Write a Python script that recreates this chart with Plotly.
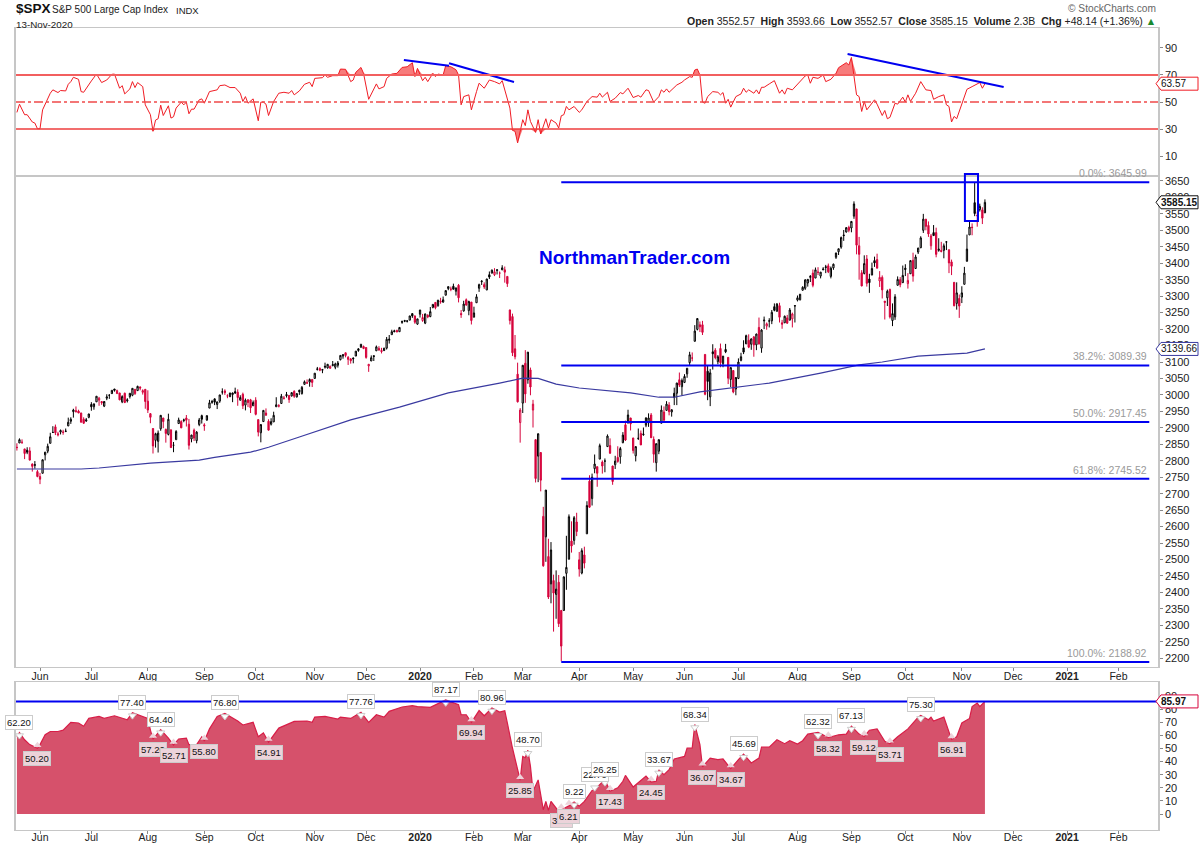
import plotly.graph_objects as go

open_px = [
 2841,2854,2856,2836,2832,2830,2790,2786,2767,
 2752,2762,2818,2829,2853,2886,2903,2882,2887,2886,2889,2906,2920,2949,2952,2951,2945,2926,2921,2932,
 2971,2964,2979,2984,2980,2966,2990,2999,3004,3018,3013,3006,2979,3005,2982,2995,2999,3017,3013,3024,3008,3017,
 2981,2943,2898,2862,2859,2897,2930,2895,2880,2894,2847,2864,2913,2919,2922,2930,2911,2866,2893,2861,2910,2937,
 2909,2924,2960,2980,2988,2971,2981,3009,3012,2997,2995,3001,3010,3008,2984,3002,2969,2985,2985,2967,
 2984,2925,2885,2919,2945,2920,2911,2918,2964,2966,2974,2990,3001,2998,2997,3011,2994,3014,3004,3032,3037,3039,3047,
 3050,3079,3080,3075,3087,3082,3081,3089,3084,3090,3107,3118,3128,3114,3109,3112,3118,3135,3145,3147,
 3144,3088,3103,3119,3134,3141,3135,3135,3142,3166,3183,3195,3196,3192,3223,3226,3225,3227,3247,3240,3215,
 3245,3226,3218,3242,3238,3266,3281,3271,3285,3282,3303,3323,3321,3330,3315,3333,3247,3255,3289,3256,3282,
 3236,3280,3324,3344,3335,3319,3365,3370,3365,3378,3370,3380,3380,3360,3258,3238,3140,3063,2916,
 2975,3096,3046,3076,2954,2864,2814,2825,2631,2569,2509,2426,2436,2394,2431,2345,2345,2458,2501,2556,2558,2614,
 2499,2459,2514,2578,2738,2685,2776,2782,2805,2796,2799,2843,2846,2784,2788,2810,2812,2855,2909,2918,2930,
 2869,2815,2868,2883,2879,2908,2915,2939,2865,2794,2829,2914,2948,2953,2969,2948,3005,3005,3046,3025,
 3038,3064,3098,3112,3163,3199,3213,3213,3123,3072,2994,3131,3136,3101,3141,3095,3138,3114,3047,3074,3018,3050,
 3105,3143,3155,3166,3154,3176,3152,3205,3142,3225,3209,3224,3225,3268,3254,3271,3219,3219,3234,3227,3231,3270,
 3288,3289,3318,3324,3340,3357,3370,3355,3372,3361,3380,3387,3392,3360,3386,3418,3435,3449,3486,3495,3509,
 3507,3543,3565,3453,3371,3369,3413,3352,3364,3408,3411,3346,3357,3285,3295,3320,3226,3237,3333,3350,3341,
 3385,3338,3368,3409,3384,3434,3447,3500,3534,3515,3453,3493,3493,3439,3439,3439,3464,3441,3404,3342,3278,3293,
 3297,3336,3406,3486,3508,3584,3544,3563,3562,3553]
high_px = [
 2853,2868,2865,2836,2841,2841,2792,2799,2772,
 2763,2804,2827,2852,2885,2905,2910,2888,2895,2894,2898,2931,2932,2958,2965,2955,2946,2932,2930,2943,
 2978,2973,2996,2994,2980,2981,3002,3002,3014,3018,3016,3006,2999,3007,2990,3005,3020,3017,3028,3026,3017,3017,
 3014,2945,2898,2885,2892,2939,2930,2898,2943,2894,2857,2893,2931,2923,2928,2939,2927,2879,2898,2890,2930,2940,
 2914,2938,2985,2985,2989,2979,3000,3020,3017,3002,3006,3007,3022,3017,2999,3007,2989,2987,2988,2983,
 2993,2925,2911,2953,2959,2926,2929,2949,2993,2972,3003,2997,3009,3000,3007,3014,3005,3016,3027,3044,3047,3050,3047,
 3066,3085,3084,3079,3098,3094,3089,3103,3098,3103,3121,3124,3128,3118,3112,3114,3133,3142,3154,3150,
 3144,3094,3120,3120,3150,3148,3143,3143,3176,3182,3198,3198,3198,3206,3226,3228,3226,3240,3247,3241,3231,
 3258,3246,3247,3245,3267,3275,3282,3288,3295,3299,3317,3329,3329,3338,3326,3337,3258,3286,3293,3286,3282,
 3268,3306,3338,3347,3342,3353,3375,3381,3385,3381,3375,3394,3390,3360,3259,3247,3182,3098,2960,
 3091,3136,3130,3083,2985,2863,2883,2825,2660,2711,2563,2553,2454,2467,2453,2347,2449,2572,2637,2616,2632,2642,
 2523,2534,2539,2677,2756,2761,2819,2782,2852,2801,2807,2880,2868,2785,2815,2844,2842,2887,2922,2955,2930,
 2870,2844,2898,2892,2901,2932,2944,2945,2874,2852,2865,2968,2965,2981,2978,2956,3022,3037,3068,3050,
 3063,3081,3131,3129,3212,3233,3223,3225,3123,3088,3079,3154,3142,3121,3156,3118,3155,3115,3082,3074,3054,3111,
 3128,3166,3183,3184,3172,3179,3186,3235,3200,3238,3220,3233,3258,3278,3279,3280,3228,3241,3243,3264,3250,3272,
 3302,3306,3330,3352,3352,3364,3381,3387,3388,3373,3388,3395,3399,3390,3399,3432,3444,3481,3501,3510,3514,
 3528,3588,3565,3480,3379,3424,3425,3368,3402,3420,3429,3376,3363,3285,3320,3323,3278,3306,3360,3358,3393,
 3397,3370,3409,3432,3426,3447,3482,3550,3534,3527,3489,3516,3508,3476,3465,3460,3466,3441,3411,3342,3342,3305,
 3330,3389,3487,3529,3521,3646,3557,3581,3570,3594]
low_px = [
 2831,2854,2851,2805,2820,2801,2767,2776,2750,
 2729,2762,2801,2823,2853,2886,2878,2874,2880,2879,2887,2905,2912,2931,2946,2945,2917,2912,2918,2929,
 2952,2955,2979,2967,2970,2963,2984,2988,3003,3010,3004,2984,2975,2975,2977,2989,2996,3000,3013,3014,3001,2958,
 2945,2914,2822,2840,2825,2891,2899,2855,2877,2839,2826,2864,2913,2899,2917,2904,2834,2856,2860,2853,2905,2913,
 2891,2921,2960,2973,2969,2957,2976,3001,3000,2990,2993,2978,3003,2967,2983,2957,2953,2963,2945,2967,
 2938,2874,2856,2918,2938,2892,2907,2918,2964,2962,2974,2986,2992,2976,2995,2991,2992,3000,3001,3032,3034,3025,3024,
 3050,3074,3072,3066,3080,3080,3079,3087,3078,3083,3105,3110,3114,3091,3095,3096,3118,3131,3143,3139,
 3110,3070,3103,3103,3134,3136,3126,3133,3138,3156,3183,3191,3191,3192,3216,3221,3220,3227,3234,3216,3213,
 3235,3222,3215,3233,3236,3263,3260,3268,3277,3280,3302,3318,3315,3321,3302,3281,3234,3253,3271,3242,3214,
 3236,3280,3313,3334,3322,3318,3352,3369,3361,3366,3355,3379,3341,3328,3214,3118,3108,2977,2855,
 2945,2976,3034,2999,2901,2734,2735,2707,2478,2493,2380,2367,2281,2320,2295,2191,2345,2408,2500,2521,2545,2571,
 2448,2455,2473,2578,2657,2664,2762,2721,2805,2761,2765,2843,2821,2727,2775,2794,2791,2853,2860,2912,2892,
 2822,2798,2863,2848,2876,2902,2903,2869,2794,2767,2820,2914,2922,2953,2938,2934,2969,2969,3024,2999,
 3036,3052,3091,3102,3164,3196,3191,3182,2999,2984,2966,3077,3108,3093,3084,3084,3127,3033,3024,3005,2999,3048,
 3102,3124,3155,3142,3137,3116,3136,3153,3128,3200,3198,3205,3215,3254,3253,3220,3201,3219,3216,3227,3205,3220,
 3284,3287,3317,3319,3329,3343,3327,3355,3364,3354,3379,3370,3370,3354,3380,3413,3425,3444,3468,3493,3494,
 3494,3535,3427,3350,3330,3366,3329,3310,3364,3389,3385,3328,3293,3229,3270,3232,3209,3228,3333,3327,3340,
 3361,3323,3368,3344,3384,3428,3446,3492,3500,3480,3441,3483,3418,3435,3433,3415,3440,3370,3364,3269,3259,3234,
 3279,3336,3405,3486,3485,3543,3511,3557,3519,3553]
close_px = [
 2840,2864,2856,2822,2826,2802,2783,2788,2752,
 2744,2803,2826,2844,2873,2886,2885,2879,2892,2887,2890,2917,2926,2954,2950,2945,2917,2914,2924,2942,
 2964,2973,2996,2990,2976,2980,2994,2999,3014,3014,3004,2985,2995,2977,2985,3005,3020,3004,3026,3021,3013,2980,
 2954,2932,2845,2882,2884,2938,2919,2883,2926,2840,2847,2889,2924,2900,2924,2923,2847,2878,2869,2887,2924,2926,
 2906,2937,2976,2978,2978,2979,3000,3009,3007,2997,3006,3006,3006,2992,2992,2967,2984,2977,2961,2977,
 2941,2887,2910,2953,2938,2893,2919,2938,2970,2967,2996,2990,2998,2986,3007,2996,3004,3010,3023,3040,3036,3047,3038,
 3066,3078,3075,3077,3085,3093,3087,3092,3094,3097,3120,3122,3120,3108,3104,3110,3133,3140,3154,3141,
 3114,3093,3113,3117,3146,3136,3132,3142,3169,3169,3192,3192,3191,3205,3221,3224,3224,3240,3240,3221,3231,
 3258,3235,3246,3237,3253,3275,3265,3288,3283,3289,3317,3329,3321,3321,3325,3295,3244,3276,3273,3284,3226,
 3249,3298,3335,3346,3328,3352,3358,3379,3374,3380,3370,3386,3373,3338,3226,3128,3116,2979,2954,
 3090,3003,3130,3024,2972,2746,2882,2741,2481,2711,2386,2529,2398,2410,2305,2237,2447,2476,2630,2541,2627,2585,
 2471,2527,2489,2664,2659,2750,2790,2762,2846,2784,2799,2875,2823,2737,2799,2798,2837,2878,2863,2939,2912,
 2831,2843,2868,2848,2881,2930,2930,2870,2820,2852,2864,2954,2923,2972,2949,2955,2992,3036,3030,3044,
 3056,3081,3122,3112,3194,3232,3207,3190,3002,3041,3067,3125,3113,3116,3098,3118,3131,3051,3083,3009,3053,3100,
 3116,3130,3180,3145,3170,3152,3185,3155,3197,3227,3216,3225,3251,3257,3276,3236,3215,3239,3218,3258,3246,3271,
 3295,3306,3327,3349,3351,3360,3333,3380,3373,3373,3382,3389,3374,3385,3397,3431,3444,3478,3484,3508,3500,
 3527,3580,3455,3427,3331,3399,3339,3341,3384,3401,3385,3357,3319,3281,3315,3237,3247,3298,3351,3335,3363,
 3381,3348,3408,3361,3419,3446,3477,3534,3512,3489,3483,3484,3427,3443,3436,3453,3465,3401,3391,3271,3310,3270,
 3310,3370,3443,3510,3509,3551,3545,3573,3537,3585]

sma_bar = [0,25,32,52,71,77,91,98,110,130,149,168,188,197,203,210,219,239,250,256,266,278,293,313,328,337,351,370,377]
sma_val = [2775,2775,2778,2793,2802,2810,2826,2841,2872,2924,2963,3006,3036,3051,3050,3033,3021,3006,2993,2993,3009,3021,3036,3066,3091,3100,3118,3127,3139.66]

rsi_bar = [
 0,1,3,4,6,7,8,9,10,11,13,14,16,17,19,20,21,22,24,25,26,29,31,33,35,37,38,40,41,42,44,45,46,47,49,50,52,53,54,55,56,57,59,60,61,62,64,65,66,67,68,69,71,72,73,75,78,79,81,83,85,87,88,89,90,92,94,95,
 96,97,98,100,102,104,106,107,108,110,112,114,115,116,119,120,121,123,125,126,128,130,131,132,134,135,137,140,141,143,144,146,148,150,152,154,155,156,158,159,160,162,163,164,166,167,169,171,172,173,174,176,177,179,180,182,184,186,188,189,190,192,
 193,194,195,197,198,199,200,202,203,204,206,207,208,210,211,212,213,214,215,217,219,220,222,224,226,227,228,230,231,233,235,236,238,240,242,243,245,246,248,250,251,252,253,254,257,259,260,262,263,264,265,266,267,268,269,271,273,274,275,276,277,278,280,282,283,284,285,
 287,288,289,290,291,293,295,297,298,299,300,302,304,305,307,308,309,310,312,314,315,317,319,320,323,324,325,327,328,329,330,331,334,335,337,338,339,340,342,343,345,346,347,348,350,352,354,356,357,359,361,362,363,364,365,366,368,370,372,374,375,376,377]
rsi_val = [
 42.3,48.4,40.6,40.6,35.2,34.4,30.2,30.2,44.2,48.4,56.5,59,57,58.5,58.2,63.1,65.1,68.3,66.8,57.7,57.2,65.6,70.7,64.4,66.3,70.5,70.7,60.2,62.1,56,59.7,65.1,60.7,64.4,61.4,47.9,40.6,28.3,36.6,37.6,47.7,40,47.2,38.1,39.1,45.5,49.9,47.9,49.9,41.3,44.7,44.7,51.6,52.3,49.1,57.7,59,62.1,62.6,60.7,60.7,56.5,50.4,54,49.1,52.3,36.1,49.9,
 49.9,48.4,40,50.4,56.5,57.2,56.5,58.5,55.3,58.2,63.1,64.6,61.4,67.5,68,70,68.3,69.5,69.5,74.4,74.2,65.1,66.3,72,75.6,71.2,52,63.4,59.7,61.4,67.5,70.7,71.2,75.6,76.1,79.1,68.8,74.9,65.8,68.3,65.1,71.2,68.8,70.7,70,76.9,76.1,73.9,70,47.9,54,55.3,44.2,57.7,63.9,60.2,66.3,65.1,63.4,65.8,59,45.5,
 29,28.3,19.7,36.9,32.5,44.2,35.6,27.5,36.9,26.3,37.6,30.7,36.9,34.4,30.7,39.8,40.6,46.7,44.2,46.7,42.3,44.2,50.4,54,53.6,56.5,53.6,57.2,50.4,52.8,57,56,60.2,53.3,54.8,53.6,59,58.5,49.9,54,59,57.2,59.7,57.2,62.6,64.6,66.3,68.8,68.3,73.7,74.4,70,49.9,49.1,54,57.7,57.2,55.3,57,49.1,52,46.2,54,56,60.2,57.2,59,
 56.5,59,56,60.9,60.9,63.4,65.8,56.5,59,55.8,60.2,59,63.4,65.1,69.3,70,63.9,68.3,67.5,70,65.1,66.8,71.2,75.4,79.1,77.4,83,55.3,54,43,50.4,44.2,51.6,48.4,40,43.7,37.6,38.6,49.1,48.4,53.6,49.9,55.3,50.4,56.5,65.1,59,58.5,52,54,55.3,47.9,46.7,35.2,39.3,37.6,49.1,59.4,61.4,63.1,64.4,60.2,63.57]

breadth_bar = [0,1,3,5,8,9,11,13,16,18,21,24,26,28,32,34,38,43,45,49,51,52,53,56,59,61,63,66,67,70,72,73,75,78,81,86,88,92,94,96,98,102,108,113,115,116,120,125,126,130,134,137,140,143,145,150,154,156,161,167,172,173,175,177,180,182,185,188,190,191,193,196,197,198,199,200,201,203,205,206,207,208,211,212,215,217,219,221,224,225,227,229,231,234,236,237,240,242,245,247,249,250,252,254,256,260,261,263,264,266,267,270,273,275,278,281,283,286,289,290,293,296,299,301,304,306,308,312,316,320,323,325,328,330,332,335,338,340,343,347,351,352,355,356,357,361,364,366,368,371,372,374,375,377]
breadth_val = [59,62.2,56.7,53,50.2,53,60.6,63,63,64,70,69.5,67,73,74.5,73,75,72,77.4,74.5,73,64,57.2,64.4,58,52.71,57.3,58,53,53,59,55.8,65,74.5,76.8,71,68,70,59,62,54.91,65.6,70.7,71,70,74,74.5,72.5,74,73,77.76,70,75.8,74,78.4,81.7,82.7,82,81.4,87.17,83.5,75.8,75.8,69.94,79,75,80.96,77.9,78.9,69.5,50.4,25.85,44,43,48.7,36.4,17.3,26,3.3,9.7,2.8,9.7,2,3.21,6.21,9.22,5.9,9.7,18,18.5,22.4,26.25,17.43,20,25,29.5,20.6,23.7,29,24.45,25,33.67,30,33.8,42,44,50.4,50.4,68.34,53,36.07,42.7,41.5,42,34.67,41.5,45.69,39,42.7,51,51,56.7,53.7,56,53.5,56,61,62.32,58.32,60.5,61,67.13,61,59.12,64,65,55.5,53.71,59,65,74,75.3,72,74,71,74,56.91,59,69.5,73,82,84.7,82,85.97]

peak_bar = [1,45,56,81,134,167,185,199,217,225,229,250,264,283,312,325,352]
peak_val = [62.2,77.4,64.4,76.8,77.76,87.17,80.96,48.7,9.22,22.4,26.25,33.67,68.34,45.69,62.32,67.13,75.3]
peak_txt = ["62.20","77.40","64.40","76.80","77.76","87.17","80.96","48.70","9.22","22.70","26.25","33.67","68.34","45.69","62.32","67.13","75.30"]
trough_bar = [8,53,61,73,98,177,196,212,215,231,247,267,278,316,330,340,364]
trough_val = [50.2,57.2,52.71,55.8,54.91,69.94,25.85,3.21,6.21,17.43,24.45,36.07,34.67,58.32,59.12,53.71,56.91]
trough_txt = ["50.20","57.20","52.71","55.80","54.91","69.94","25.85","3.21","6.21","17.43","24.45","36.07","34.67","58.32","59.12","53.71","56.91"]

fib_levels = [3645.99, 3089.39, 2917.45, 2745.52, 2188.92]
fib_texts = ["0.0%: 3645.99", "38.2%: 3089.39", "50.0%: 2917.45", "61.8%: 2745.52", "100.0%: 2188.92"]
fib_start_bar, fib_end_bar = 212, 441

trend_a_bar, trend_a_val = [150.7, 168.3], [81.1, 76.9]
trend_b_bar, trend_b_val = [168.3, 193.6], [78.7, 64.8]
trend_c_bar, trend_c_val = [323.5, 384.3], [85.6, 61.1]

month_bar = [9,29,51,73,93,116,136,157,178,197,219,240,260,281,304,325,346,368,388,409,429]
month_txt = ["Jun","Jul","Aug","Sep","Oct","Nov","Dec","<b>2020</b>","Feb","Mar","Apr","May","Jun","Jul","Aug","Sep","Oct","Nov","Dec","<b>2021</b>","Feb"]

price_ticks = list(range(2200, 3651, 50))
rsi_ticks = [10, 30, 50, 70, 90]
breadth_ticks = list(range(0, 91, 10))

assert len(open_px) == len(high_px) == len(low_px) == len(close_px) == 378
assert len(rsi_bar) == len(rsi_val), (len(rsi_bar), len(rsi_val))
assert len(breadth_bar) == len(breadth_val) and len(sma_bar) == len(sma_val)

W, H = 1200, 845
TOP, BOT, LEFT, RIGHT = 28, 830, 16, 1158
FONT = "Liberation Sans"
RED = "#d6043c"
BLUE = "#0000f0"
BORDER = "#c6c6c6"
NAVY = "#3a3aa0"
def dom(y_top, y_bot):
    return [(BOT - y_bot) / (BOT - TOP), (BOT - y_top) / (BOT - TOP)]
def py(y):
    return (BOT - y) / (BOT - TOP)
def px(x):
    return (x - LEFT) / (RIGHT - LEFT)

xr = [-0.35, 444.4]
fig = go.Figure()

# RSI pane
rsi_over = [max(v, 70) for v in rsi_val]
rsi_under = [min(v, 30) for v in rsi_val]
for level in (70, 30):
    fig.add_trace(go.Scatter(x=rsi_bar, y=[level]*len(rsi_bar), mode="lines", line=dict(width=0), xaxis="x", yaxis="y", showlegend=False, hoverinfo="skip"))
    fig.add_trace(go.Scatter(x=rsi_bar, y=rsi_over if level == 70 else rsi_under, mode="lines", line=dict(width=0), fill="tonexty", fillcolor="rgba(245,90,90,0.8)", xaxis="x", yaxis="y", showlegend=False, hoverinfo="skip"))
fig.add_trace(go.Scatter(x=rsi_bar, y=rsi_val, mode="lines", line=dict(color="#f01c24", width=1), xaxis="x", yaxis="y", showlegend=False))
for bx, by in ((trend_a_bar, trend_a_val), (trend_b_bar, trend_b_val), (trend_c_bar, trend_c_val)):
    fig.add_trace(go.Scatter(x=bx, y=by, mode="lines", line=dict(color=BLUE, width=2), xaxis="x", yaxis="y", showlegend=False))

# Price pane: four candle groups, StockCharts colouring
groups = {(h, c): [] for h in (True, False) for c in (True, False)}
for i in range(len(close_px)):
    prev = close_px[i-1] if i else open_px[i]
    groups[(close_px[i] >= open_px[i], close_px[i] >= prev)].append(i)
for (hollow, up), idx in groups.items():
    col = "#000000" if up else RED
    fill = "#ffffff" if hollow else col
    style = dict(line=dict(color=col, width=1), fillcolor=fill)
    fig.add_trace(go.Candlestick(
        x=idx,
        open=[open_px[i] for i in idx], high=[high_px[i] for i in idx],
        low=[low_px[i] for i in idx], close=[close_px[i] for i in idx],
        increasing=style, decreasing=style, whiskerwidth=0,
        xaxis="x2", yaxis="y2", showlegend=False))
fig.add_trace(go.Scatter(x=sma_bar, y=sma_val, mode="lines", line=dict(color=NAVY, width=1.2), xaxis="x2", yaxis="y2", showlegend=False))
for lv in fib_levels:
    fig.add_trace(go.Scatter(x=[fib_start_bar, fib_end_bar], y=[lv, lv], mode="lines", line=dict(color=BLUE, width=2), xaxis="x2", yaxis="y2", showlegend=False))

# Breadth pane
fig.add_trace(go.Scatter(x=breadth_bar, y=breadth_val, mode="lines", line=dict(color="#d81e48", width=1.2), fill="tozeroy", fillcolor="#d6516b", xaxis="x3", yaxis="y3", showlegend=False))
fig.add_trace(go.Scatter(x=peak_bar, y=peak_val, mode="markers", marker=dict(symbol="triangle-down", size=7, color="#ffffff", line=dict(color="#cccccc", width=1), standoff=3), xaxis="x3", yaxis="y3", showlegend=False))
fig.add_trace(go.Scatter(x=trough_bar, y=trough_val, mode="markers", marker=dict(symbol="triangle-down", angle=180, size=7, color="#ecd3da", standoff=3), xaxis="x3", yaxis="y3", showlegend=False))

ann = []
def note(text, x, y, xref="paper", yref="paper", **kw):
    base = dict(text=text, x=x, y=y, xref=xref, yref=yref, showarrow=False, yanchor="middle", font=dict(family=FONT, size=10.5, color="#222222"))
    base["font"] = dict(family=FONT, size=kw.pop("size", 10.5), color=kw.pop("color", "#222222"))
    base.update(kw)
    ann.append(base)

note("<b>$SPX</b>", px(14), py(9), xanchor="left", size=13.5, color="#111111")
note("S&amp;P 500 Large Cap Index", px(50), py(10), xanchor="left", size=10)
note("INDX", px(174), py(10.5), xanchor="left", size=9.5)
note("13-Nov-2020", px(14), py(24), xanchor="left", size=9.8)
note("© StockCharts.com", px(1158), py(9), xanchor="right", size=10.2, color="#666666")
note("<b>Open</b> 3552.57  <b>High</b> 3593.66  <b>Low</b> 3552.57  <b>Close</b> 3585.15  <b>Volume</b> 2.3B  <b>Chg</b> +48.14 (+1.36%) <span style='color:#1a8a2e'>▲</span>",
     px(1158), py(21), xanchor="right", size=10.5)
note("<b>NorthmanTrader.com</b>", px(635), py(257), xanchor="center", size=19, color="#0000f0")
for lv, t in zip(fib_levels, fib_texts):
    note(t, fib_end_bar, lv, xref="x2", yref="y2", xanchor="right", yanchor="bottom", yshift=1, size=10.5, color="#9a9a9a")
for bx, v, t in zip(peak_bar, peak_val, peak_txt):
    note(t, bx, v, xref="x3", yref="y3", yanchor="bottom", yshift=3, size=9.5, color="#111111", bgcolor="#ffffff", bordercolor="#cccccc", borderwidth=1, borderpad=1)
for bx, v, t in zip(trough_bar, trough_val, trough_txt):
    note(t, bx, v, xref="x3", yref="y3", yanchor="top", yshift=-3, size=9.5, color="#111111", bgcolor="#ecd3da", bordercolor="#cccccc", borderwidth=1, borderpad=1)

shapes = []
def hline(level, yref, color, width, dash="solid"):
    shapes.append(dict(type="line", xref="x domain" if yref == "y" else "x3 domain", x0=0, x1=1, yref=yref, y0=level, y1=level, line=dict(color=color, width=width, dash=dash), layer="above"))
hline(70, "y", "#f25f5f", 2)
hline(30, "y", "#ee3c3c", 1.5)
hline(50, "y", "#f04a4a", 1.5, "dashdot")
hline(85.97, "y3", BLUE, 2)
shapes.append(dict(type="rect", xref="x2", x0=369.2, x1=374.3, yref="paper", y0=py(221), y1=py(174), line=dict(color=BLUE, width=2), fillcolor="rgba(0,0,0,0)", layer="above"))

def tag(value, yref, text, color, bold=False):
    shapes.append(dict(type="path", xref="paper", xsizemode="pixel", xanchor=1.0, yref=yref, ysizemode="pixel", yanchor=value,
                       path="M -2 0 L 3 6.5 L 40 6.5 L 40 -6.5 L 3 -6.5 Z", line=dict(color=color, width=1), fillcolor="#ffffff", layer="above"))
    t = f"<b>{text}</b>" if bold else text
    ann.append(dict(text=t, x=1.0, y=value, xref="paper", yref=yref, xanchor="left", xshift=1, showarrow=False, font=dict(family=FONT, size=10, color="#111111")))
tag(63.57, "y", "63.57", "#f01c24")
tag(3585.15, "y2", "3585.15", "#111111", True)
tag(3139.66, "y2", "3139.66", NAVY)
tag(85.97, "y3", "85.97", RED, True)

x_common = dict(range=xr, showgrid=False, zeroline=False, showline=True, mirror=True, linecolor=BORDER, linewidth=1, automargin=False)
y_common = dict(side="right", showgrid=False, zeroline=False, showline=True, mirror=True, linecolor=BORDER, linewidth=1.5, automargin=False,
                ticks="outside", ticklen=3, tickcolor="#888888", tickfont=dict(family=FONT, size=11, color="#222222"))
x_ticks = dict(tickmode="array", tickvals=month_bar, ticktext=month_txt, ticks="outside", ticklen=3, tickcolor="#888888", tickfont=dict(family=FONT, size=10.5, color="#222222"))

fig.update_layout(
    width=W, height=H, autosize=False,
    margin=dict(l=LEFT, r=W-RIGHT, t=TOP, b=H-BOT, pad=0),
    paper_bgcolor="white", plot_bgcolor="white",
    boxmode="overlay", showlegend=False, hovermode=False,
    xaxis=dict(domain=[0, 1], anchor="y", showticklabels=False, ticks="", **x_common),
    xaxis2=dict(domain=[0, 1], anchor="y2", rangeslider=dict(visible=False), ticklabelstandoff=-4, **x_common, **x_ticks),
    xaxis3=dict(domain=[0, 1], anchor="y3", ticklabelstandoff=-6, **x_common, **x_ticks),
    yaxis=dict(domain=dom(28, 176), anchor="x", range=[-4.8, 104.8], tickvals=rsi_ticks, **y_common),
    yaxis2=dict(domain=dom(176, 667), anchor="x2", range=[2173.5, 3665], tickvals=price_ticks, **y_common),
    yaxis3=dict(domain=dom(682, 830), anchor="x3", range=[-12.2, 100.8], tickvals=breadth_ticks, **y_common),
    annotations=ann, shapes=shapes,
)
fig.write_html("out.html", config=dict(displayModeBar=False),
               post_script="document.body.style.margin='0';document.documentElement.style.overflow='hidden';")
